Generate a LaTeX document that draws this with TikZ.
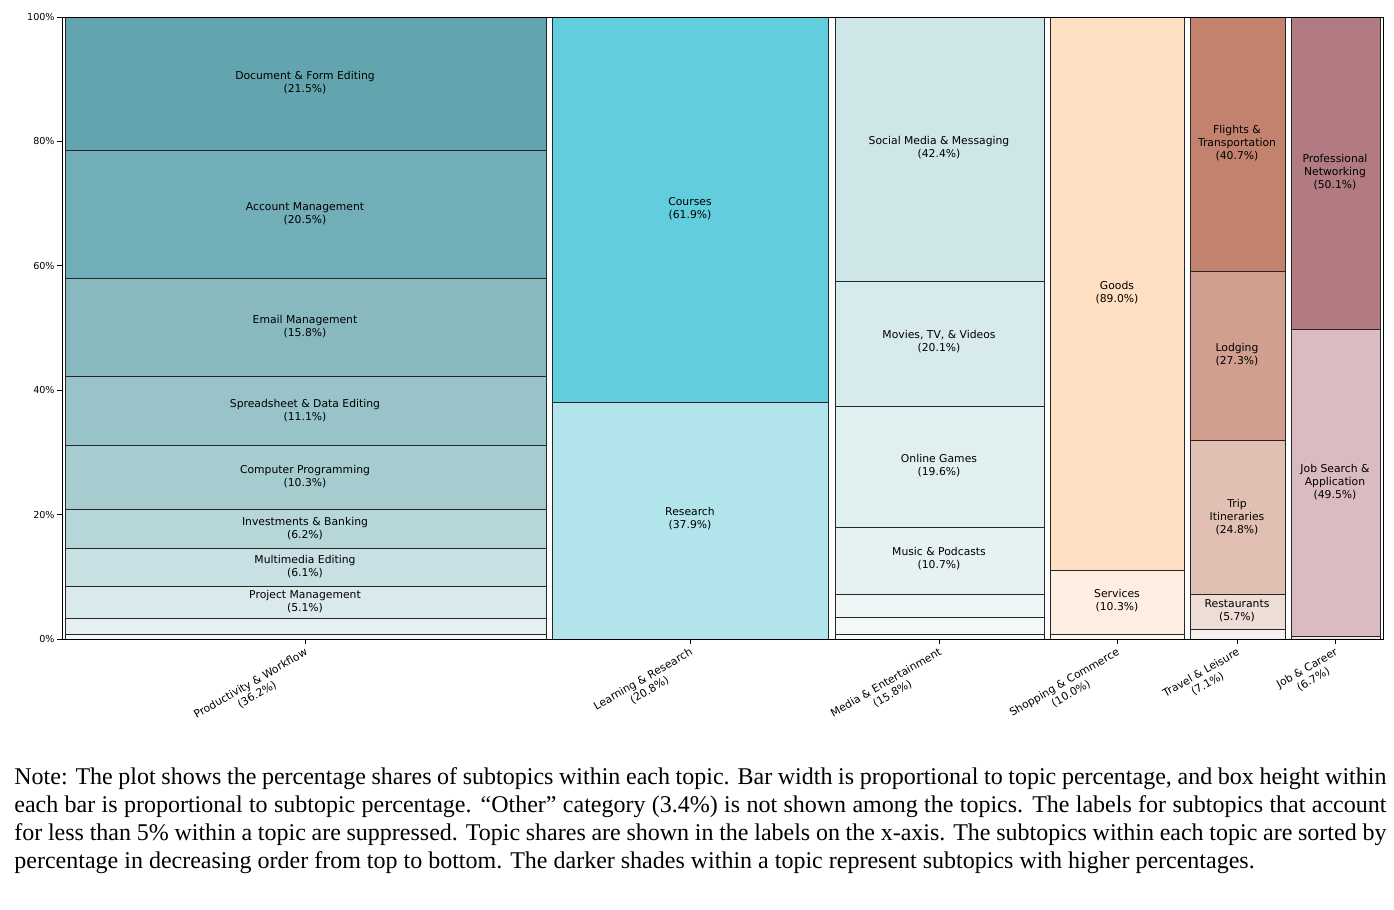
\documentclass[tikz,border=0pt]{standalone}
\usepackage{fontspec}
\setmainfont{Liberation Serif}
\newfontfamily\plotfont{DejaVu Sans}
\definecolor{aA}{HTML}{62A5AE}\definecolor{aB}{HTML}{72AEB7}\definecolor{aC}{HTML}{87B9BF}
\definecolor{aD}{HTML}{98C3C8}\definecolor{aE}{HTML}{A6CCD0}\definecolor{aF}{HTML}{B7D6DA}
\definecolor{aG}{HTML}{C8E0E3}\definecolor{aH}{HTML}{DAEAEC}\definecolor{aI}{HTML}{E6F0F2}\definecolor{aJ}{HTML}{F2F7F8}
\definecolor{bA}{HTML}{62CDDC}\definecolor{bB}{HTML}{B2E4EC}
\definecolor{cA}{HTML}{CFE6E8}\definecolor{cB}{HTML}{D8EBEC}\definecolor{cC}{HTML}{E0EFEF}
\definecolor{cD}{HTML}{E6F2F2}\definecolor{cE}{HTML}{EEF6F6}\definecolor{cF}{HTML}{F3F8F8}\definecolor{cG}{HTML}{F8FBFB}
\definecolor{dA}{HTML}{FFDFC2}\definecolor{dB}{HTML}{FEEEE2}\definecolor{dC}{HTML}{FFF8F2}
\definecolor{eA}{HTML}{C2826D}\definecolor{eB}{HTML}{D19F8F}\definecolor{eC}{HTML}{E1BFB3}
\definecolor{eD}{HTML}{EEDCD6}\definecolor{eE}{HTML}{F8F0EE}
\definecolor{fA}{HTML}{B27B82}\definecolor{fB}{HTML}{DABBC2}\definecolor{fC}{HTML}{F0E2E5}
\begin{document}
\begin{tikzpicture}[x=0.5pt,y=-0.5pt,
  seg/.style={draw=black!85,line width=0.5pt},
  lab/.style={font=\plotfont\fontsize{5.4}{6.4}\selectfont,align=center,inner sep=0pt},
  tick/.style={font=\plotfont\fontsize{4.8}{5.6}\selectfont,inner sep=1pt},
  xlab/.style={font=\plotfont\fontsize{5.4}{6.4}\selectfont,align=center,rotate=30,anchor=north east,inner sep=1pt}]
\useasboundingbox[fill=white] (0,0) rectangle (1394,910);
\newcommand\bx[5]{\fill[#5] (#1,#3) rectangle (#2,#4); \draw[seg] (#1,#3) rectangle (#2,#4);}
% Bar 1
\bx{65}{546}{17}{150.7}{aA}
\bx{65}{546}{150.7}{278}{aB}
\bx{65}{546}{278}{376.5}{aC}
\bx{65}{546}{376.5}{445.5}{aD}
\bx{65}{546}{445.5}{509.6}{aE}
\bx{65}{546}{509.6}{548}{aF}
\bx{65}{546}{548}{586}{aG}
\bx{65}{546}{586}{618}{aH}
\bx{65}{546}{618}{634}{aI}
\bx{65}{546}{634}{639}{aJ}
\node[lab] (a1) at (305,83) {Document \& Form Editing\\(21.5\%)};
\node[lab] (a2) at (305,214) {Account Management\\(20.5\%)};
\node[lab] (a3) at (305,327) {Email Management\\(15.8\%)};
\node[lab] (a4) at (305,411) {Spreadsheet \& Data Editing\\(11.1\%)};
\node[lab] (a5) at (305,477) {Computer Programming\\(10.3\%)};
\node[lab] (a6) at (305,529) {Investments \& Banking\\(6.2\%)};
\node[lab] (a7) at (305,567) {Multimedia Editing\\(6.1\%)};
\node[lab] (a8) at (305,602) {Project Management\\(5.1\%)};
% Bar 2
\bx{552}{828}{17}{402}{bA}
\bx{552}{828}{402}{639}{bB}
\node[lab] (b1) at (690,209) {Courses\\(61.9\%)};
\node[lab] (b2) at (690,519) {Research\\(37.9\%)};
% Bar 3
\bx{835}{1044}{17}{281}{cA}
\bx{835}{1044}{281}{406}{cB}
\bx{835}{1044}{406}{527}{cC}
\bx{835}{1044}{527}{594}{cD}
\bx{835}{1044}{594}{617}{cE}
\bx{835}{1044}{617}{634}{cF}
\bx{835}{1044}{634}{639}{cG}
\node[lab] (c1) at (939,148) {Social Media \& Messaging\\(42.4\%)};
\node[lab] (c2) at (939,342) {Movies, TV, \& Videos\\(20.1\%)};
\node[lab] (c3) at (939,466) {Online Games\\(19.6\%)};
\node[lab] (c4) at (939,559) {Music \& Podcasts\\(10.7\%)};
% Bar 4
\bx{1050}{1184}{17}{570}{dA}
\bx{1050}{1184}{570}{634}{dB}
\bx{1050}{1184}{634}{639}{dC}
\node[lab] (d1) at (1117,293) {Goods\\(89.0\%)};
\node[lab] (d2) at (1117,601) {Services\\(10.3\%)};
% Bar 5
\bx{1190}{1285}{17}{271}{eA}
\bx{1190}{1285}{271}{440}{eB}
\bx{1190}{1285}{440}{594}{eC}
\bx{1190}{1285}{594}{629}{eD}
\bx{1190}{1285}{629}{639}{eE}
\node[lab] (e1) at (1237,143) {Flights \&\\Transportation\\(40.7\%)};
\node[lab] (e2) at (1237,355) {Lodging\\(27.3\%)};
\node[lab] (e3) at (1237,517) {Trip\\Itineraries\\(24.8\%)};
\node[lab] (e4) at (1237,611) {Restaurants\\(5.7\%)};
% Bar 6
\bx{1291}{1380}{17}{329}{fA}
\bx{1291}{1380}{329}{636}{fB}
\bx{1291}{1380}{636}{639}{fC}
\node[lab] (f1) at (1335,172) {Professional\\Networking\\(50.1\%)};
\node[lab] (f2) at (1335,482) {Job Search \&\\Application\\(49.5\%)};
% axes
\draw[line width=0.5pt] (62,17) rectangle (1383,639);
\foreach \y/\t in {639/0,514.6/20,390.2/40,265.8/60,141.4/80,17/100}{
  \draw[line width=0.5pt] (62,\y) -- (57,\y);
  \node[tick,anchor=east] at (57,\y) {\t\%};}
\foreach \x/\t [count=\i] in {305/{Productivity \& Workflow\\(36.2\%)},690/{Learning \& Research\\(20.8\%)},939/{Media \& Entertainment\\(15.8\%)},1117/{Shopping \& Commerce\\(10.0\%)},1237/{Travel \& Leisure\\(7.1\%)},1335/{Job \& Career\\(6.7\%)}}{
  \draw[line width=0.5pt] (\x,639) -- (\x,644);
  \node[xlab] (x\i) at (\x,644) {\t};}
\node[anchor=north west,inner sep=0pt,text width=686pt,align=justify,font=\fontsize{12}{14}\selectfont] (note) at (14,767)
{Note: The plot shows the percentage shares of subtopics within each topic. Bar width is proportional to topic percentage, and box height within\linebreak
each bar is proportional to subtopic percentage. ``Other'' category (3.4\%) is not shown among the topics. The labels for subtopics that account\linebreak
for less than 5\% within a topic are suppressed. Topic shares are shown in the labels on the x-axis. The subtopics within each topic are sorted by\linebreak
percentage in decreasing order from top to bottom. The darker shades within a topic represent subtopics with higher percentages.\par};
\end{tikzpicture}
\end{document}
